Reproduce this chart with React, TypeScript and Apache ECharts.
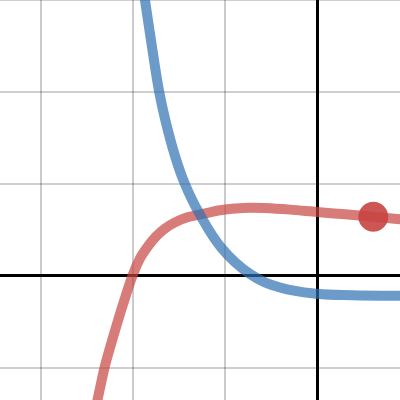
import React, { useEffect, useRef } from 'react';
import * as echarts from 'echarts';

// points, in graph units (one grid square = 1)
const blueX = [-1.886, -1.87, -1.772, -1.717, -1.649, -1.552, -1.443, -1.28, -1.033, -0.728, -0.402, 0, 0.391, 0.902, 1.0];
const blueY = [3.103, 2.995, 2.342, 2.005, 1.69, 1.328, 1.013, 0.676, 0.293, 0.016, -0.13, -0.199, -0.215, -0.221, -0.222];

const redX = [-2.41, -2.386, -2.307, -2.215, -2.105, -2.005, -1.924, -1.837, -1.75, -1.652, -1.543, -1.424, -1.293, -1.163, -1.054, -0.891, -0.728, -0.565, -0.293, 0, 0.304, 0.612, 0.902, 1.0];
const redY = [-1.462, -1.353, -0.991, -0.665, -0.302, 0, 0.186, 0.318, 0.424, 0.511, 0.577, 0.627, 0.658, 0.687, 0.709, 0.728, 0.737, 0.734, 0.716, 0.69, 0.665, 0.639, 0.612, 0.603];

const dotPoint = [0.612, 0.639];

const App: React.FC = () => {
  const chartRef = useRef<HTMLDivElement>(null);

  useEffect(() => {
    if (!chartRef.current) return;
    const chart = echarts.init(chartRef.current, undefined, { renderer: 'svg' });

    const gridLine = { show: true, lineStyle: { color: 'rgba(0,0,0,0.26)', width: 1.6 } };
    const axisLine = { show: true, onZero: true, lineStyle: { color: '#000', width: 3 } };

    chart.setOption({
      animation: false,
      backgroundColor: '#fff',
      // the grid runs past the page so that the unit lines fall where they do in the picture
      grid: { left: -51, right: -9, top: -92.5, bottom: -59.5, outerBoundsMode: 'none' },
      xAxis: {
        type: 'value', min: -4, max: 1, interval: 1,
        axisLine, axisTick: { show: false }, axisLabel: { show: false }, splitLine: gridLine,
      },
      yAxis: {
        type: 'value', min: -2, max: 4, interval: 1,
        axisLine, axisTick: { show: false }, axisLabel: { show: false }, splitLine: gridLine,
      },
      series: [
        {
          name: 'red',
          type: 'line',
          data: redX.map((x, i) => [x, redY[i]]),
          showSymbol: false,
          smooth: 0.3,
          lineStyle: { color: '#c74440', width: 10, opacity: 0.7, join: 'round' },
        },
        {
          name: 'blue',
          type: 'line',
          data: blueX.map((x, i) => [x, blueY[i]]),
          showSymbol: false,
          smooth: 0.4,
          lineStyle: { color: '#2d70b3', width: 10, opacity: 0.7, join: 'round' },
        },
        {
          name: 'dot',
          type: 'scatter',
          data: [dotPoint],
          symbolSize: 30,
          itemStyle: { color: '#c74440', opacity: 0.9 },
          z: 5,
        },
      ],
    });

    return () => chart.dispose();
  }, []);

  return <div ref={chartRef} style={{ position: 'absolute', left: 0, top: 0, width: 400, height: 400 }} />;
};

export default App;
